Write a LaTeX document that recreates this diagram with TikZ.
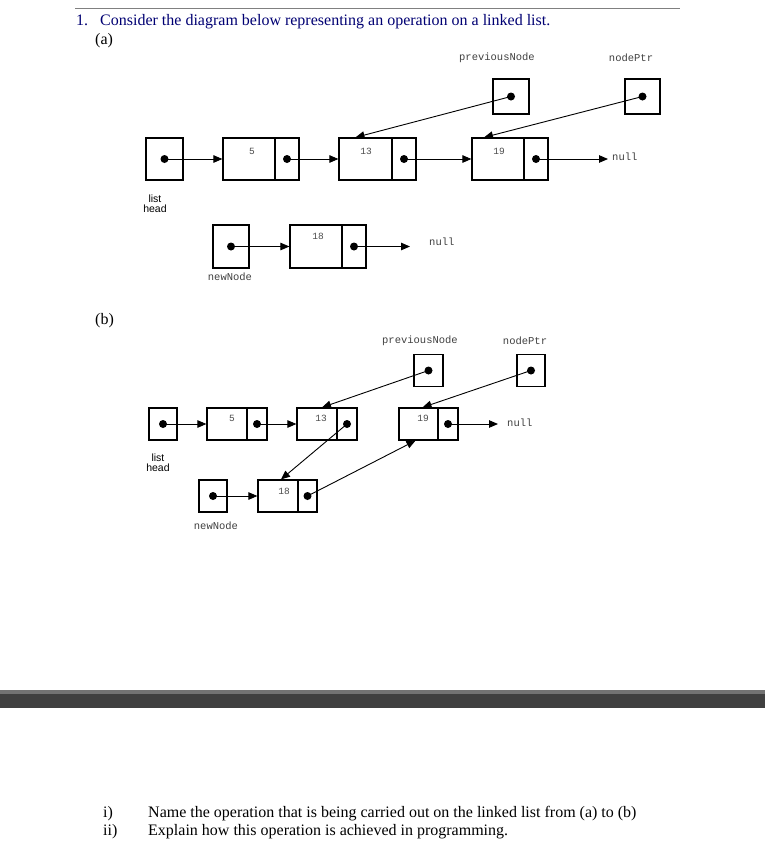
\documentclass[tikz,border=0pt]{standalone}
\usepackage{fontspec}
\setmainfont{Liberation Serif}
\newfontfamily\monof{Liberation Mono}
\newfontfamily\sansf{Liberation Sans}
\usetikzlibrary{arrows.meta}
\begin{document}
\begin{tikzpicture}[x=1pt,y=-1pt,
  bx/.style={draw,line width=1.2pt,minimum width=#1,minimum height=42pt,inner sep=0pt},
  bxb/.style={draw,line width=1.2pt,minimum width=#1,minimum height=32pt,inner sep=0pt},
  dot/.style={circle,fill,inner sep=0pt,minimum size=8pt},
  ar/.style={-{Triangle[length=9pt,width=7.5pt]},line width=0.9pt},
  lbl/.style={font=\monof\fontsize{10.5}{12}\selectfont,text=black!75,inner sep=0pt},
  val/.style={font=\monof\fontsize{9.5}{11}\selectfont,text=black!70,inner sep=0pt},
  lh/.style={font=\sansf\fontsize{10.5}{10}\selectfont,align=center,inner sep=0pt},
  body/.style={font=\fontsize{16}{19}\selectfont,anchor=base west,inner sep=0pt}]
\useasboundingbox (0,0) rectangle (765,860);
\fill[white] (0,0) rectangle (765,860);
\draw[black!50,line width=0.8pt] (75,8) -- (680,8);
\node[body,text=blue!45!black] (n1) at (76,25) {1.\hspace{12pt}Consider the diagram below representing an operation on a linked list.};
\node[body] (la) at (95,44) {(a)};
% ---------- (a)
\node[lbl] (pnl) at (497,58) {previousNode};
\node[lbl] (npl) at (631,58) {nodePtr};
\node[bx=36pt,minimum height=35pt] (pn) at (511,96.5) {};
\node[bx=35pt,minimum height=35pt] (np) at (642.5,96.5) {};
\node[bx=37pt] (h) at (164.5,159) {};
\node[bx=52pt] (d5) at (249,159) {};
\node[bx=24pt] (p5) at (287,159) {};
\node[bx=53pt] (d13) at (365.5,159) {};
\node[bx=24pt] (p13) at (404,159) {};
\node[bx=52pt] (d19) at (498,159) {};
\node[bx=24pt] (p19) at (536,159) {};
\node[val] at (252,151) {5};
\node[val] at (366,151) {13};
\node[val] at (499,151) {19};
\coordinate (nullA) at (608,159);
\node[lbl,anchor=west] (nt1) at (612,157) {null};
\node[lh] (lhl) at (155,203.5) {list\\head};
\node[bx=36pt,minimum height=43pt] (nn) at (231,246.5) {};
\node[bx=52pt,minimum height=43pt] (d18) at (316,246.5) {};
\node[bx=24pt,minimum height=43pt] (p18) at (354,246.5) {};
\node[val] at (318,236) {18};
\coordinate (nullB) at (410,246.5);
\node[lbl,anchor=west] (nt2) at (429,242) {null};
\node[lbl] (nnl) at (230,277) {newNode};
\foreach \n in {pn,np,h,p5,p13,p19,nn,p18} \node[dot] (\n d) at (\n) {};
\draw[ar] (hd.center) -- (d5.west);
\draw[ar] (p5d.center) -- (d13.west);
\draw[ar] (p13d.center) -- (d19.west);
\draw[ar] (p19d.center) -- (nullA);
\draw[ar] (nnd.center) -- (d18.west);
\draw[ar] (p18d.center) -- (nullB);
\draw[ar] (pnd.center) -- ([xshift=-10pt]d13.north);
\draw[ar] (npd.center) -- ([xshift=-14pt]d19.north);
% ---------- (b)
\node[body] (lb) at (95,324) {(b)};
\node[lbl] (pnl2) at (420,341) {previousNode};
\node[lbl] (npl2) at (525,341) {nodePtr};
\node[bxb=29pt] (bpn) at (428.5,370.5) {};
\node[bxb=28pt] (bnp) at (531,370.5) {};
\node[bxb=28pt] (bh) at (163,424) {};
\node[bxb=40pt] (bd5) at (227,424) {};
\node[bxb=20pt] (bp5) at (257,424) {};
\node[bxb=40pt] (bd13) at (317,424) {};
\node[bxb=20pt] (bp13) at (347,424) {};
\node[bxb=39pt] (bd19) at (418.5,424) {};
\node[bxb=20pt] (bp19) at (448,424) {};
\node[val] at (232,418) {5};
\node[val] at (321,418) {13};
\node[val] at (423,418) {19};
\coordinate (nullC) at (498,424);
\node[lbl,anchor=west] (nt3) at (507,423) {null};
\node[lh] (lhl2) at (158,463) {list\\head};
\node[bxb=28pt] (bnn) at (213,496) {};
\node[bxb=40pt] (bd18) at (278,496) {};
\node[bxb=19pt] (bp18) at (307.5,496) {};
\node[val] at (284,491) {18};
\node[lbl] (nnl2) at (216,526) {newNode};
\foreach \n in {bpn,bnp,bh,bp5,bp13,bp19,bnn,bp18} \node[dot] (\n d) at (\n) {};
\draw[ar] (bhd.center) -- (bd5.west);
\draw[ar] (bp5d.center) -- (bd13.west);
\draw[ar] (bp19d.center) -- (nullC);
\draw[ar] (bnnd.center) -- (bd18.west);
\draw[ar] (bpnd.center) -- ([xshift=5pt]bd13.north);
\draw[ar] (bnpd.center) -- ([xshift=4pt]bd19.north);
\draw[ar] (bp13d.center) -- ([xshift=3pt]bd18.north);
\draw[ar] (bp18d.center) -- ([xshift=-3pt]bd19.south);
% ---------- bar and questions
\fill[black!55] (0,690) rectangle (765,708);
\fill[black!75] (0,694) rectangle (765,708);
\node[body] (q1n) at (103,817) {i)};
\node[body] (q1) at (148,817) {Name the operation that is being carried out on the linked list from (a) to (b)};
\node[body] (q2n) at (103,835) {ii)};
\node[body] (q2) at (148,835) {Explain how this operation is achieved in programming.};
\end{tikzpicture}
\end{document}
